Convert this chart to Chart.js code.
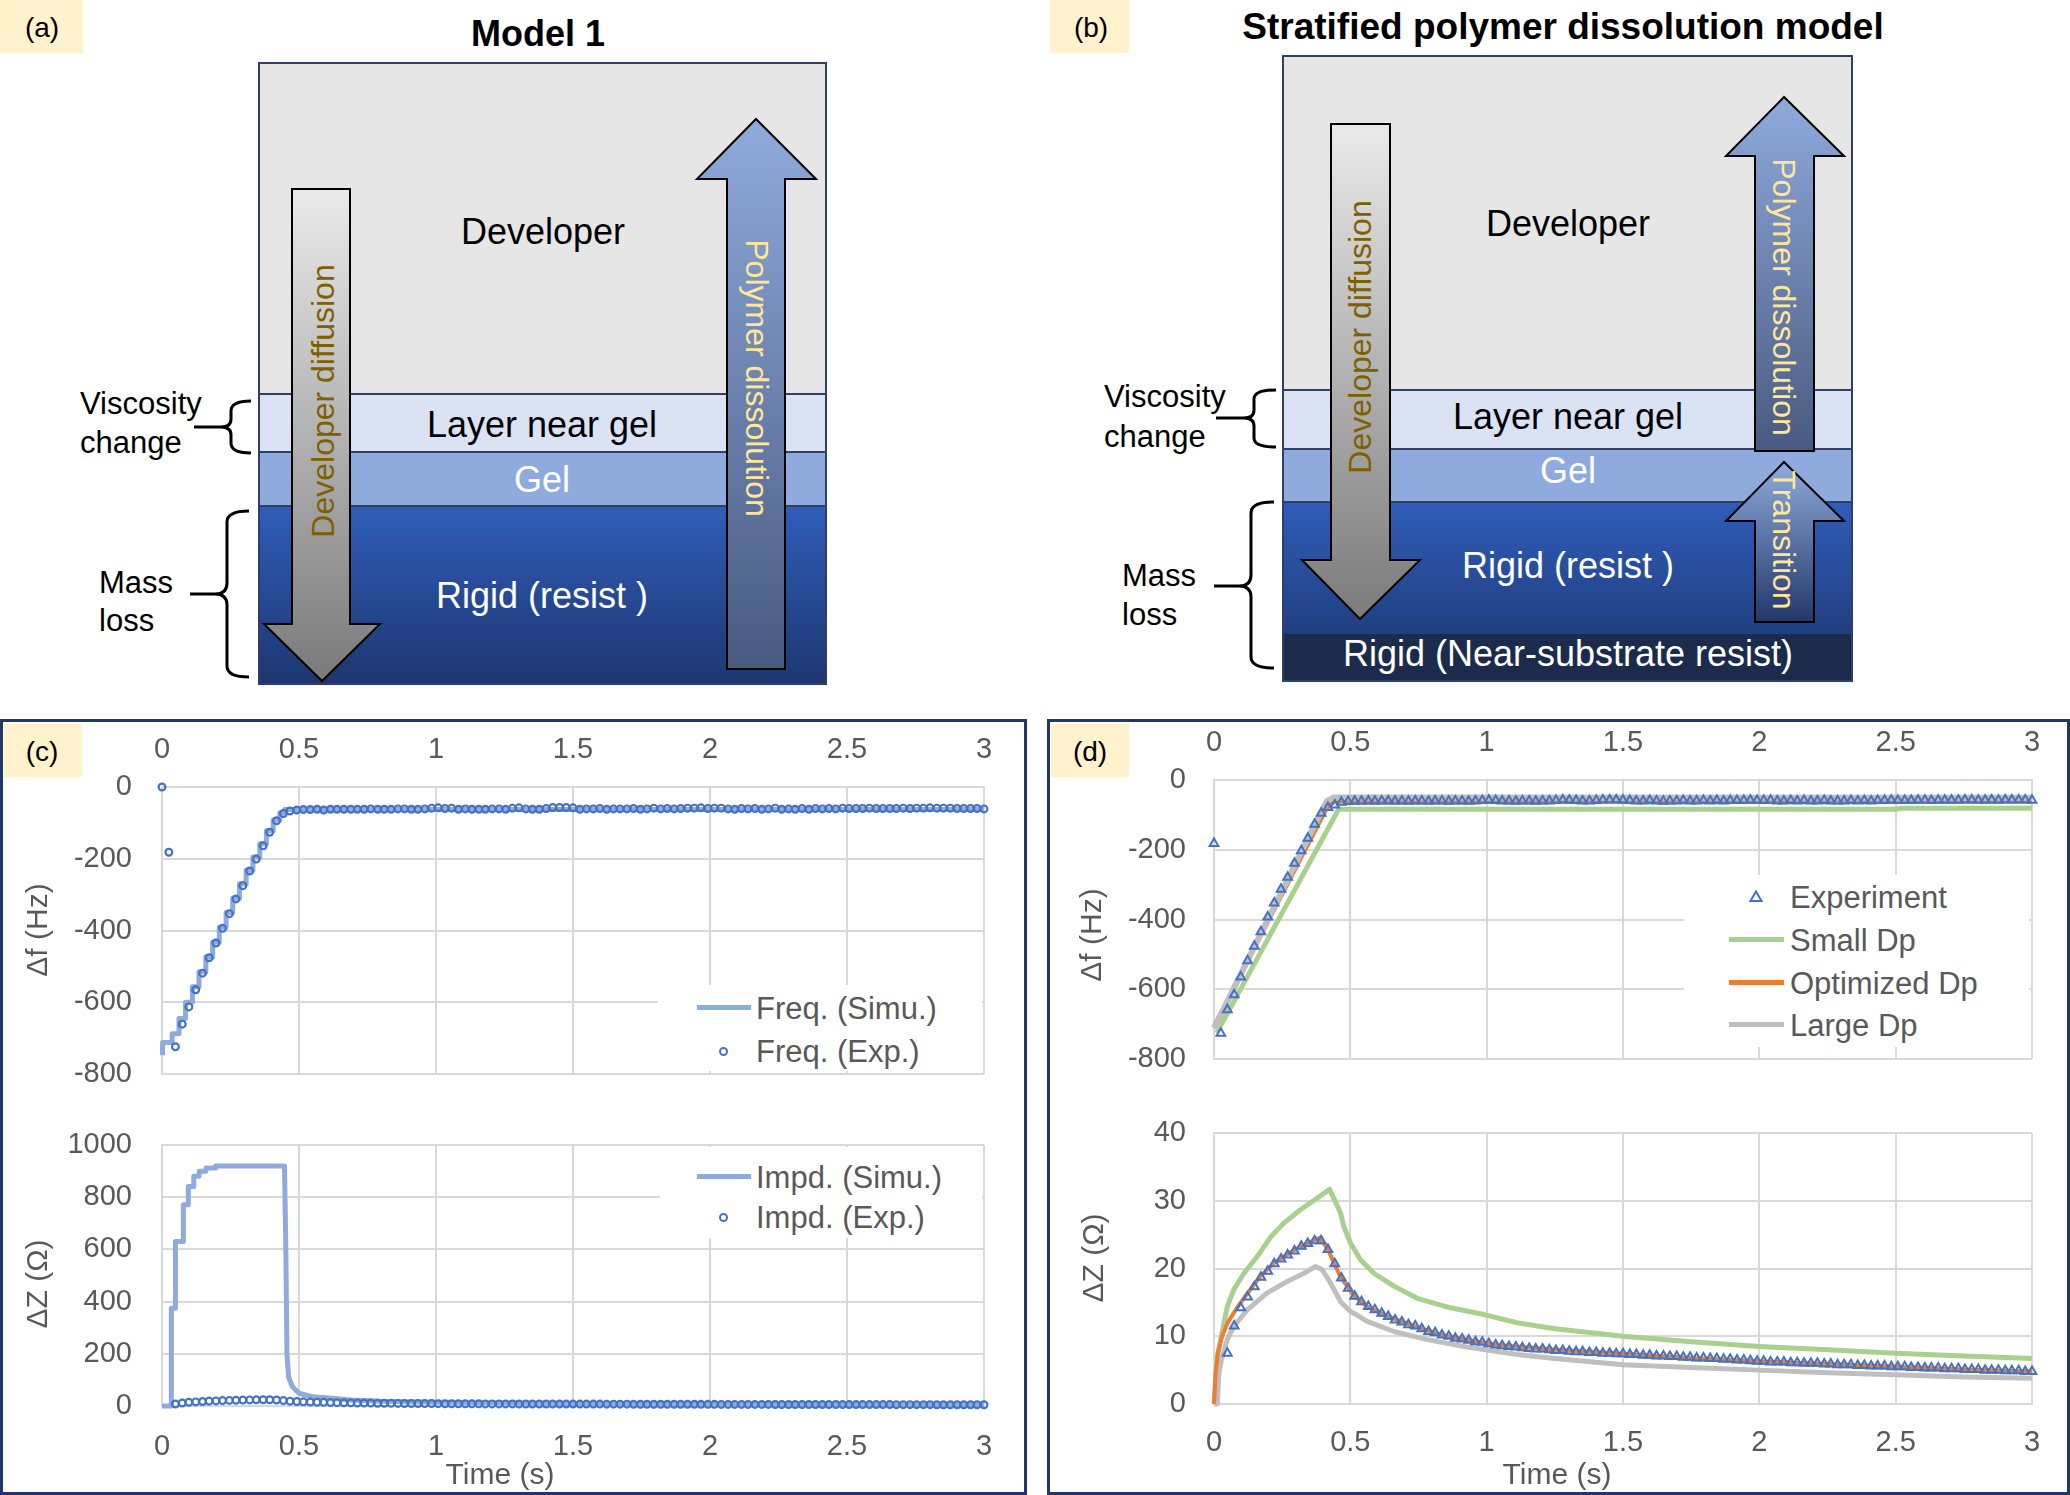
<!DOCTYPE html>
<html><head><meta charset="utf-8">
<script src="https://cdn.jsdelivr.net/npm/chart.js"></script>
<style>
html,body{margin:0;padding:0;background:#fff}
body{width:2070px;height:1495px;position:relative;overflow:hidden;font-family:"Liberation Sans",Arial,Helvetica,sans-serif;color:#000}
.t{position:absolute;white-space:nowrap;line-height:1;transform:translate(-50%,-50%)}
.tl{position:absolute;white-space:nowrap;line-height:1;transform:translateY(-50%)}
.bx{position:absolute}
canvas{position:absolute}
.leg{position:absolute;background:#fff}
.ls{position:absolute;height:5px}
.lt{position:absolute;white-space:nowrap;line-height:1;transform:translateY(-50%);font-size:31px;color:#595959}
.ring{position:absolute;width:9px;height:9px;box-sizing:border-box;border:2px solid #4472C4;border-radius:50%}
.ax{position:absolute;white-space:nowrap;line-height:1;font-size:30px;color:#595959}
</style></head><body>

<!-- Diagrams (a) and (b) -->
<svg width="2070" height="720" style="position:absolute;left:0;top:0">
 <defs>
  <linearGradient id="rigid" x1="0" y1="0" x2="0" y2="1"><stop offset="0" stop-color="#2F5DB9"/><stop offset="1" stop-color="#1E3670"/></linearGradient>
  <linearGradient id="rigidB" x1="0" y1="0" x2="0" y2="1"><stop offset="0" stop-color="#2F5DB9"/><stop offset="1" stop-color="#213F80"/></linearGradient>
  <linearGradient id="gArr" x1="0" y1="0" x2="0" y2="1"><stop offset="0" stop-color="#EAEAEA"/><stop offset="1" stop-color="#7A7A7A"/></linearGradient>
  <linearGradient id="bArr" x1="0" y1="0" x2="0" y2="1"><stop offset="0" stop-color="#8FAADC"/><stop offset="1" stop-color="#485A80"/></linearGradient>
  <linearGradient id="tArr" x1="0" y1="0" x2="0" y2="1"><stop offset="0" stop-color="#8FAADC"/><stop offset="1" stop-color="#22376A"/></linearGradient>
 </defs>
 <!-- (a) -->
 <rect x="259" y="63" width="567" height="331" fill="#E7E6E6"/>
 <rect x="259" y="394" width="567" height="58" fill="#DAE3F3"/>
 <rect x="259" y="452" width="567" height="54" fill="#8FAADC"/>
 <rect x="259" y="506" width="567" height="178" fill="url(#rigid)"/>
 <g stroke="#2F3F66" stroke-width="2">
  <line x1="259" y1="394" x2="826" y2="394"/><line x1="259" y1="452" x2="826" y2="452"/><line x1="259" y1="506" x2="826" y2="506"/>
 </g>
 <rect x="259" y="63" width="567" height="621" fill="none" stroke="#2F3F66" stroke-width="2"/>
 <polygon points="292,189 350,189 350,624 380,624 322,681 264,624 292,624" fill="url(#gArr)" stroke="#000" stroke-width="2"/>
 <polygon points="727,669 785,669 785,179 816,179 756,119 697,179 727,179" fill="url(#bArr)" stroke="#000" stroke-width="2"/>
 <g fill="none" stroke="#000" stroke-width="3">
  <path d="M251,401 Q231,401 231,411 L231,419 Q231,427 221,427 L194,427 M221,427 Q231,427 231,435 L231,443 Q231,453 251,453"/>
  <path d="M249,511 Q227,511 227,522 L227,583 Q227,594 215,594 L190,594 M215,594 Q227,594 227,605 L227,666 Q227,677 249,677"/>
 </g>
 <!-- (b) -->
 <rect x="1283" y="56" width="569" height="334" fill="#E7E6E6"/>
 <rect x="1283" y="390" width="569" height="59" fill="#DAE3F3"/>
 <rect x="1283" y="449" width="569" height="53" fill="#8FAADC"/>
 <rect x="1283" y="502" width="569" height="132" fill="url(#rigidB)"/>
 <rect x="1283" y="634" width="569" height="47" fill="#1C2B4C"/>
 <g stroke="#2F3F66" stroke-width="2">
  <line x1="1283" y1="390" x2="1852" y2="390"/><line x1="1283" y1="449" x2="1852" y2="449"/><line x1="1283" y1="502" x2="1852" y2="502"/>
 </g>
 <rect x="1283" y="56" width="569" height="625" fill="none" stroke="#2F3F66" stroke-width="2"/>
 <polygon points="1331,124 1390,124 1390,560 1420,560 1360,619 1302,560 1331,560" fill="url(#gArr)" stroke="#000" stroke-width="2"/>
 <polygon points="1755,451 1814,451 1814,156 1844,156 1784,97 1726,156 1755,156" fill="url(#bArr)" stroke="#000" stroke-width="2"/>
 <polygon points="1755,622 1814,622 1814,521 1844,521 1784,462 1726,521 1755,521" fill="url(#tArr)" stroke="#000" stroke-width="2"/>
 <g fill="none" stroke="#000" stroke-width="3">
  <path d="M1276,390 Q1254,390 1254,399 L1254,410 Q1254,418 1244,418 L1216,418 M1244,418 Q1254,418 1254,426 L1254,438 Q1254,447 1276,447"/>
  <path d="M1274,502 Q1251,502 1251,513 L1251,575 Q1251,586 1239,586 L1214,586 M1239,586 Q1251,586 1251,597 L1251,657 Q1251,668 1274,668"/>
 </g>
</svg>

<div class="bx" style="left:0;top:0;width:83px;height:53px;background:#FFF2CC"></div>
<div class="t" style="left:42px;top:28px;font-size:28px">(a)</div>
<div class="t" style="left:538px;top:34px;font-size:36px;font-weight:bold">Model 1</div>
<div class="t" style="left:543px;top:232px;font-size:36px">Developer</div>
<div class="t" style="left:542px;top:425px;font-size:36px">Layer near gel</div>
<div class="t" style="left:542px;top:480px;font-size:36px;color:#fff">Gel</div>
<div class="t" style="left:542px;top:596px;font-size:36px;color:#fff">Rigid (resist )</div>
<div class="t" style="left:323px;top:401px;font-size:32px;color:#7F6000;transform:translate(-50%,-50%) rotate(-90deg)">Developer diffusion</div>
<div class="t" style="left:757px;top:378px;font-size:32px;color:#FFE699;transform:translate(-50%,-50%) rotate(90deg)">Polymer dissolution</div>
<div class="tl" style="left:80px;top:403px;font-size:31px">Viscosity</div>
<div class="tl" style="left:80px;top:442px;font-size:31px">change</div>
<div class="tl" style="left:99px;top:582px;font-size:31px">Mass</div>
<div class="tl" style="left:99px;top:620px;font-size:31px">loss</div>

<div class="bx" style="left:1050px;top:0;width:79px;height:53px;background:#FFF2CC"></div>
<div class="t" style="left:1091px;top:28px;font-size:28px">(b)</div>
<div class="t" style="left:1563px;top:26px;font-size:37px;font-weight:bold">Stratified polymer dissolution model</div>
<div class="t" style="left:1568px;top:224px;font-size:36px">Developer</div>
<div class="t" style="left:1568px;top:417px;font-size:36px">Layer near gel</div>
<div class="t" style="left:1568px;top:471px;font-size:36px;color:#fff">Gel</div>
<div class="t" style="left:1568px;top:566px;font-size:36px;color:#fff">Rigid (resist )</div>
<div class="t" style="left:1568px;top:654px;font-size:36px;color:#fff">Rigid (Near-substrate resist)</div>
<div class="t" style="left:1360px;top:337px;font-size:32px;color:#7F6000;transform:translate(-50%,-50%) rotate(-90deg)">Developer diffusion</div>
<div class="t" style="left:1784px;top:297px;font-size:32px;color:#FFE699;transform:translate(-50%,-50%) rotate(90deg)">Polymer dissolution</div>
<div class="t" style="left:1784px;top:540px;font-size:32px;color:#FFE699;transform:translate(-50%,-50%) rotate(90deg)">Transition</div>
<div class="tl" style="left:1104px;top:396px;font-size:31px">Viscosity</div>
<div class="tl" style="left:1104px;top:436px;font-size:31px">change</div>
<div class="tl" style="left:1122px;top:575px;font-size:31px">Mass</div>
<div class="tl" style="left:1122px;top:614px;font-size:31px">loss</div>

<!-- Panels (c) and (d) frames -->
<div class="bx" style="left:0;top:719px;width:1027px;height:776px;box-sizing:border-box;border:3px solid #203864"></div>
<div class="bx" style="left:1047px;top:719px;width:1023px;height:776px;box-sizing:border-box;border:3px solid #203864"></div>
<div class="bx" style="left:4px;top:724px;width:78px;height:53px;background:#FFF2CC"></div>
<div class="t" style="left:42px;top:752px;font-size:28px">(c)</div>
<div class="bx" style="left:1051px;top:724px;width:78px;height:53px;background:#FFF2CC"></div>
<div class="t" style="left:1090px;top:752px;font-size:28px">(d)</div>

<canvas id="c1" width="975" height="370" style="left:40px;top:722px"></canvas>
<canvas id="c2" width="975" height="382" style="left:40px;top:1100px"></canvas>
<canvas id="c3" width="960" height="355" style="left:1100px;top:722px"></canvas>
<canvas id="c4" width="960" height="382" style="left:1100px;top:1100px"></canvas>

<!-- axis titles -->
<div class="ax" style="left:37px;top:930px;transform:translate(-50%,-50%) rotate(-90deg)">Δf (Hz)</div>
<div class="ax" style="left:37px;top:1284px;transform:translate(-50%,-50%) rotate(-90deg)">ΔZ (Ω)</div>
<div class="ax" style="left:500px;top:1474px;transform:translate(-50%,-50%)">Time (s)</div>
<div class="ax" style="left:1091px;top:935px;transform:translate(-50%,-50%) rotate(-90deg)">Δf (Hz)</div>
<div class="ax" style="left:1093px;top:1258px;transform:translate(-50%,-50%) rotate(-90deg)">ΔZ (Ω)</div>
<div class="ax" style="left:1557px;top:1474px;transform:translate(-50%,-50%)">Time (s)</div>

<!-- legends -->
<div class="leg" style="left:658px;top:985px;width:324px;height:86px"></div>
<div class="ls" style="left:697px;top:1005px;width:54px;background:#8FAADC"></div>
<div class="lt" style="left:756px;top:1008px">Freq. (Simu.)</div>
<div class="ring" style="left:718.5px;top:1046.5px"></div>
<div class="lt" style="left:756px;top:1051px">Freq. (Exp.)</div>

<div class="leg" style="left:660px;top:1147px;width:322px;height:91px"></div>
<div class="ls" style="left:697px;top:1174px;width:54px;background:#8FAADC"></div>
<div class="lt" style="left:756px;top:1177px">Impd. (Simu.)</div>
<div class="ring" style="left:718.5px;top:1212.5px"></div>
<div class="lt" style="left:756px;top:1217px">Impd. (Exp.)</div>

<div class="leg" style="left:1684px;top:875px;width:345px;height:172px"></div>
<svg width="14" height="14" style="position:absolute;left:1749px;top:890px"><polygon points="7,1.5 12.5,11 1.5,11" fill="none" stroke="#4472C4" stroke-width="2"/></svg>
<div class="lt" style="left:1790px;top:897px">Experiment</div>
<div class="ls" style="left:1729px;top:937px;width:55px;background:#A9D18E"></div>
<div class="lt" style="left:1790px;top:940px">Small Dp</div>
<div class="ls" style="left:1729px;top:980px;width:55px;background:#ED7D31"></div>
<div class="lt" style="left:1790px;top:983px">Optimized Dp</div>
<div class="ls" style="left:1729px;top:1022px;width:55px;background:#BFBFBF"></div>
<div class="lt" style="left:1790px;top:1025px">Large Dp</div>

<script>
// ---------- data ----------
const xTicks = [0, 0.5, 1, 1.5, 2, 2.5, 3];
const yTicksFreq = [-800, -600, -400, -200, 0];
const yTicksImpdC = [0, 200, 400, 600, 800, 1000];
const yTicksImpdD = [0, 10, 20, 30, 40];

// experimental sampling times (s)
const timeExp = [
 0,0.025,0.049,0.074,0.098,0.123,0.148,0.172,0.197,0.221,
 0.246,0.270,0.295,0.320,0.344,0.369,0.393,0.418,0.443,0.467,
 0.492,0.516,0.541,0.566,0.590,0.615,0.639,0.664,0.689,0.713,
 0.738,0.762,0.787,0.811,0.836,0.861,0.885,0.910,0.934,0.959,
 0.984,1.008,1.033,1.057,1.082,1.107,1.131,1.156,1.180,1.205,
 1.230,1.254,1.279,1.303,1.328,1.352,1.377,1.402,1.426,1.451,
 1.475,1.500,1.525,1.549,1.574,1.598,1.623,1.648,1.672,1.697,
 1.721,1.746,1.770,1.795,1.820,1.844,1.869,1.893,1.918,1.943,
 1.967,1.992,2.016,2.041,2.066,2.090,2.115,2.139,2.164,2.189,
 2.213,2.238,2.262,2.287,2.311,2.336,2.361,2.385,2.410,2.434,
 2.459,2.484,2.508,2.533,2.557,2.582,2.607,2.631,2.656,2.680,
 2.705,2.730,2.754,2.779,2.803,2.828,2.852,2.877,2.902,2.926,
 2.951,2.975,3.000];

// (c) Freq. (Exp.)  Hz
const freqExpC = [
 0,-182,-724,-661,-613,-565,-519,-476,-435,-394,
 -353,-312,-275,-234,-201,-164,-126,-94,-74,-67,
 -64,-63,-63,-62,-64,-62,-62,-62,-62,-62,
 -62,-61,-62,-62,-62,-61,-61,-62,-62,-61,
 -59,-58,-60,-59,-62,-61,-62,-62,-62,-61,
 -61,-62,-59,-58,-61,-62,-62,-60,-57,-57,
 -57,-58,-62,-61,-61,-60,-62,-61,-61,-61,
 -60,-62,-61,-59,-61,-60,-61,-60,-59,-59,
 -58,-60,-59,-59,-61,-62,-60,-61,-60,-62,
 -61,-59,-62,-61,-62,-60,-62,-60,-61,-60,
 -61,-59,-60,-60,-60,-59,-60,-60,-60,-60,
 -59,-60,-59,-59,-58,-59,-59,-59,-60,-60,
 -60,-60,-61];

// (d) Experiment (frequency)  Hz
const freqExpD = [
 -182,-726,-659,-616,-565,-518,-477,-435,-393,-353,
 -313,-279,-239,-203,-167,-127,-95,-79,-72,-64,
 -62,-61,-61,-60,-61,-60,-60,-61,-60,-61,
 -60,-60,-61,-60,-60,-61,-60,-60,-61,-60,
 -59,-58,-59,-60,-60,-61,-60,-60,-61,-60,
 -60,-59,-57,-58,-59,-60,-60,-59,-57,-57,
 -57,-58,-59,-60,-60,-59,-60,-61,-60,-60,
 -59,-60,-60,-59,-60,-59,-60,-59,-59,-59,
 -58,-59,-59,-58,-60,-60,-59,-60,-59,-60,
 -60,-59,-60,-60,-60,-59,-60,-59,-60,-59,
 -59,-58,-59,-59,-59,-58,-58,-59,-58,-58,
 -58,-58,-57,-57,-58,-58,-57,-58,-57,-57,
 -57,-57,-58];

// Experimental impedance (Ohm), from the 3rd sample on (timeExp[2..])
const impdExp = [
 7.5,11.5,14.2,15.8,17.3,18.7,19.6,20.7,21.4,22.0,
 22.6,23.3,23.7,24.1,24.1,22.8,20.7,18.6,17.1,15.9,
 15.1,14.4,13.9,13.4,12.9,12.4,12.1,11.7,11.5,11.1,
 10.7,10.5,10.2,10.0,9.7,9.6,9.4,9.2,9.1,8.9,
 8.7,8.6,8.5,8.4,8.3,8.2,8.1,8.1,8.0,7.9,
 7.9,7.8,7.7,7.7,7.6,7.6,7.5,7.5,7.4,7.4,
 7.3,7.3,7.2,7.2,7.1,7.1,7.0,7.0,6.9,6.9,
 6.8,6.8,6.7,6.7,6.6,6.6,6.5,6.5,6.4,6.3,
 6.3,6.2,6.2,6.2,6.1,6.1,6.0,6.0,6.0,5.9,
 5.9,5.8,5.8,5.8,5.7,5.7,5.6,5.6,5.6,5.5,
 5.5,5.5,5.4,5.4,5.3,5.3,5.3,5.2,5.2,5.2,
 5.1,5.1,5.1,5.0,5.0,5.0,4.9,4.9,4.9,4.8,
 4.8];

// (c) simulations
const freqSimuT = [0.002,0.037,0.062,0.086,0.111,0.135,0.160,0.185,0.209,0.234,0.258,0.283,0.307,0.332,0.357,0.381,0.406,0.430,0.448,0.460,3.000];
const freqSimuC = [-748,-712,-688,-645,-600,-557,-515,-474,-432,-391,-350,-310,-270,-232,-195,-158,-122,-92,-72,-63,-63];
const impdSimuT = [0,0.033,0.034,0.048,0.049,0.077,0.078,0.095,0.096,0.115,0.116,0.135,0.136,0.160,0.161,0.195,0.196,0.447,0.452,0.456,0.462,0.476,0.500,0.550,0.620,0.690,0.800,1.000,1.500,2.000,2.500,3.000];
const impdSimuC = [0,0,375,375,630,630,771,771,841,841,880,880,899,899,912,912,920,920,600,200,110,74,49,35,30,23,18,14,10,8,6,4];

// (d) frequency simulations
const smallDpFT = [0.010,0.457,2.500,2.520,3.000];
const smallDpF  = [-725,-84,-84,-81,-81];
const optDpFT   = [0.000,0.420,0.445,3.000];
const optDpF    = [-705,-72,-62,-61];
const largeDpFT = [0.000,0.395,0.415,0.440,3.000];
const largeDpF  = [-712,-88,-60,-50,-51];

// (d) impedance simulations
const smallDpZT = [0,0.012,0.024,0.049,0.073,0.110,0.159,0.207,0.256,0.318,0.379,0.424,0.464,0.476,0.500,0.537,0.586,0.660,0.745,0.867,0.990,1.112,1.250,1.500,1.750,2.000,2.250,2.500,2.750,3.000];
const smallDpZ  = [0,7.0,9.5,14.4,16.9,19.3,21.8,24.6,26.7,28.7,30.4,31.7,28.2,26.2,23.8,21.3,19.3,17.4,15.6,14.2,13.2,12.0,11.1,10.0,9.2,8.5,8.0,7.5,7.1,6.7];
const optDpZT   = [0,0.006,0.014,0.030,0.049,0.070,0.095,0.120,0.169,0.220,0.269,0.320,0.369,0.385,0.416,0.440,0.465,0.513,0.562,0.638,0.736,0.834,0.935,1.040,1.250,1.500,1.750,2.000,2.250,2.500,2.750,3.000];
const optDpZ    = [0,4.6,7.5,10.0,11.9,13.3,14.8,16.2,18.8,20.8,22.1,23.3,24.2,24.5,23.0,20.8,18.7,16.0,14.4,12.9,11.5,10.2,9.4,8.7,8.0,7.4,6.8,6.3,5.9,5.5,5.1,4.8];
const largeDpZT = [0,0.012,0.018,0.027,0.049,0.073,0.122,0.195,0.269,0.330,0.372,0.397,0.427,0.464,0.500,0.562,0.660,0.782,0.928,1.112,1.250,1.500,1.750,2.000,2.250,2.500,2.750,3.000];
const largeDpZ  = [0,0,4.6,6.5,9.5,11.5,13.9,16.4,18.1,19.3,20.3,19.8,17.9,15.1,13.7,12.2,10.7,9.5,8.4,7.3,6.7,5.8,5.4,5.0,4.6,4.3,4.0,3.8];

// ---------- helpers ----------
const BLUE = '#4472C4', LBLUE = '#8FAADC', GREEN = '#A9D18E', ORANGE = '#ED7D31', GRAY = '#BFBFBF', GRID = '#D9D9D9';
function xy(xs, ys) { const n = Math.min(xs.length, ys.length); const o = []; for (let i = 0; i < n; i++) o.push({x: xs[i], y: ys[i]}); return o; }

Chart.defaults.font.family = "'Liberation Sans', Arial, Helvetica, sans-serif";
Chart.defaults.font.size = 29;
Chart.defaults.color = '#595959';

function xAxis(pos, h, pad) {
  return {
    type: 'linear', position: pos, min: 0, max: 3,
    afterBuildTicks: s => { s.ticks = xTicks.map(v => ({value: v})); },
    afterFit: s => { s.height = h; s.paddingLeft = 0; s.paddingRight = 0; },
    grid: {color: GRID, lineWidth: 2, drawTicks: false},
    border: {display: true, color: GRID, width: 2},
    ticks: {padding: pad, color: '#595959', maxRotation: 0, autoSkip: false, callback: v => String(v)}
  };
}
function yAxis(ticks, w, pad) {
  return {
    type: 'linear', position: 'left', min: ticks[0], max: ticks[ticks.length - 1],
    afterBuildTicks: s => { s.ticks = ticks.map(v => ({value: v})); },
    afterFit: s => { s.width = w; s.paddingTop = 0; s.paddingBottom = 0; },
    grid: {color: GRID, lineWidth: 2, drawTicks: false},
    border: {display: true, color: GRID, width: 2},
    ticks: {padding: pad, color: '#595959', autoSkip: false, callback: v => String(v)}
  };
}
function lineDs(xs, ys, color, width, order, stepped) {
  return {data: xy(xs, ys), showLine: true, stepped: stepped || false, borderColor: color, backgroundColor: color,
          borderWidth: width, pointRadius: 0, pointHoverRadius: 0, order: order, clip: false,
          borderCapStyle: 'butt', borderJoinStyle: 'round', tension: 0};
}
function markDs(xs, ys, style, r, bw, order) {
  return {data: xy(xs, ys), showLine: false, pointStyle: style, pointRadius: r, pointHoverRadius: r,
          pointBorderWidth: bw, borderWidth: bw, borderColor: BLUE, pointBorderColor: BLUE,
          backgroundColor: 'rgba(0,0,0,0)', pointBackgroundColor: 'rgba(0,0,0,0)', order: order, clip: false};
}
function make(id, datasets, xa, ya, padding) {
  return new Chart(document.getElementById(id), {
    type: 'scatter',
    data: {datasets: datasets},
    options: {
      responsive: false, animation: false, devicePixelRatio: 1, events: [],
      layout: {padding: padding},
      plugins: {legend: {display: false}, tooltip: {enabled: false}},
      scales: {x: xa, y: ya}
    }
  });
}

// (c) top: frequency
make('c1', [
  markDs(timeExp, freqExpC, 'circle', 3.4, 2.2, 0),
  lineDs(freqSimuT, freqSimuC, LBLUE, 5, 1, 'after')
], xAxis('top', 65, 20), yAxis(yTicksFreq, 122, 30), {left: 0, top: 0, right: 31, bottom: 18});

// (c) bottom: impedance
make('c2', [
  markDs(timeExp.slice(2), impdExp, 'circle', 3.4, 2.2, 0),
  lineDs(impdSimuT, impdSimuC, LBLUE, 5, 1)
], xAxis('bottom', 76, 24), yAxis(yTicksImpdC, 122, 30), {left: 0, top: 45, right: 31, bottom: 0});

// (d) top: frequency
make('c3', [
  markDs(timeExp, freqExpD, 'triangle', 5, 2, 0),
  lineDs(largeDpFT, largeDpF, GRAY, 6, 1),
  lineDs(optDpFT, optDpF, ORANGE, 4, 2),
  lineDs(smallDpFT, smallDpF, GREEN, 5, 3)
], xAxis('top', 58, 20), yAxis(yTicksFreq, 114, 28), {left: 0, top: 0, right: 28, bottom: 18});

// (d) bottom: impedance
make('c4', [
  markDs(timeExp.slice(2), impdExp, 'triangle', 5, 2, 0),
  lineDs(optDpZT, optDpZ, ORANGE, 4, 1),
  lineDs(largeDpZT, largeDpZ, GRAY, 5, 2),
  lineDs(smallDpZT, smallDpZ, GREEN, 5, 3)
], xAxis('bottom', 78, 22), yAxis(yTicksImpdD, 114, 28), {left: 0, top: 33, right: 28, bottom: 0});
</script>
</body></html>
